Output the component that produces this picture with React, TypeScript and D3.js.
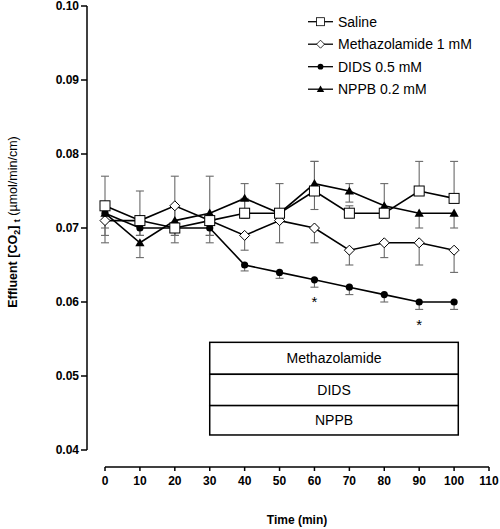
import * as d3 from 'd3';

// time points (min)
const times = [0, 10, 20, 30, 40, 50, 60, 70, 80, 90, 100];

const saline = [0.073, 0.071, 0.070, 0.071, 0.072, 0.072, 0.075, 0.072, 0.072, 0.075, 0.074];
const salineUp = [0.004, 0.004, 0.007, 0.006, 0.002, 0.004, 0.004, 0.001, 0.004, 0.004, 0.005];
const salineDown = [0, 0, 0, 0, 0.0007, 0, 0, 0, 0.0007, 0, 0];

const methaz = [0.071, 0.071, 0.073, 0.071, 0.069, 0.071, 0.070, 0.067, 0.068, 0.068, 0.067];
const methazUp = [0, 0, 0, 0, 0, 0, 0, 0, 0, 0, 0];
const methazDown = [0.003, 0.002, 0.005, 0.003, 0.002, 0.003, 0.002, 0.002, 0.002, 0.003, 0.003];

const dids = [0.072, 0.070, 0.070, 0.070, 0.065, 0.064, 0.063, 0.062, 0.061, 0.060, 0.060];
const didsUp = [0, 0, 0, 0, 0, 0, 0, 0, 0, 0, 0];
const didsDown = [0.002, 0.001, 0.001, 0.001, 0.0008, 0.0008, 0.001, 0.001, 0.001, 0.001, 0.001];

const nppb = [0.072, 0.068, 0.071, 0.072, 0.074, 0.072, 0.076, 0.075, 0.073, 0.072, 0.072];
const nppbUp = [0, 0, 0, 0, 0.002, 0, 0.003, 0.001, 0, 0, 0];
const nppbDown = [0.003, 0.002, 0.002, 0.003, 0.0026, 0, 0.0035, 0.0015, 0.0016, 0.002, 0.002];

const xTicks = [0, 10, 20, 30, 40, 50, 60, 70, 80, 90, 100, 110];
const yTicks = [0.04, 0.05, 0.06, 0.07, 0.08, 0.09, 0.10];

// significance marks on DIDS
const starTimes = [60, 90];
const starValues = [0.0605, 0.0574];

// treatment bars: labels, time span, row edges (value units)
const treatLabels = ['Methazolamide', 'DIDS', 'NPPB'];
const treatStart = 30;
const treatEnd = 101.2;
const treatEdges = [0.05455, 0.05023, 0.0460, 0.04203];

type Shape = 'square' | 'diamond' | 'circle' | 'triangle';

interface Series {
  name: string;
  values: number[];
  up: number[];
  down: number[];
  shape: Shape;
}

// drawn in this order; saline last so its squares sit on top
const series: Series[] = [
  { name: 'Methazolamide 1 mM', values: methaz, up: methazUp, down: methazDown, shape: 'diamond' },
  { name: 'DIDS 0.5 mM', values: dids, up: didsUp, down: didsDown, shape: 'circle' },
  { name: 'NPPB 0.2 mM', values: nppb, up: nppbUp, down: nppbDown, shape: 'triangle' },
  { name: 'Saline', values: saline, up: salineUp, down: salineDown, shape: 'square' },
];
const legendOrder = ['Saline', 'Methazolamide 1 mM', 'DIDS 0.5 mM', 'NPPB 0.2 mM'];

const FONT = 'Liberation Sans, Arial, Helvetica, sans-serif';

function Marker({ shape, cx, cy }: { shape: Shape; cx: number; cy: number }) {
  if (shape === 'square') {
    return <rect x={cx - 5} y={cy - 5} width={10} height={10} fill="#fff" stroke="#000" strokeWidth={1} />;
  }
  if (shape === 'diamond') {
    const r = 5;
    return (
      <path
        d={`M${cx},${cy - r}L${cx + r},${cy}L${cx},${cy + r}L${cx - r},${cy}Z`}
        fill="#fff"
        stroke="#000"
        strokeWidth={1}
      />
    );
  }
  if (shape === 'circle') {
    return <circle cx={cx} cy={cy} r={3.6} fill="#000" />;
  }
  const s = 4.6;
  return (
    <path
      d={`M${cx},${cy - s}L${cx + s},${cy + s * 0.75}L${cx - s},${cy + s * 0.75}Z`}
      fill="#000"
    />
  );
}

export default function App() {
  const width = 500;
  const height = 529;

  const x = d3.scaleLinear().domain([0, 110]).range([105, 489]);
  const y = d3.scaleLinear().domain([0.04, 0.10]).range([450, 6]);

  const line = d3
    .line<number>()
    .x((_, i) => x(times[i]))
    .y((d) => y(d));

  const axisY = 87;
  const axisX = 467;

  return (
    <svg
      width={width}
      height={height}
      style={{ position: 'absolute', left: 0, top: 0, background: '#fff' }}
      fontFamily={FONT}
    >
      {/* Y axis */}
      <line x1={axisY} x2={axisY} y1={y(0.10)} y2={y(0.04)} stroke="#000" strokeWidth={1.5} />
      {yTicks.map((t) => (
        <g key={t}>
          <line x1={axisY - 6} x2={axisY} y1={y(t)} y2={y(t)} stroke="#000" strokeWidth={1.5} />
          <text x={axisY - 8} y={y(t)} dy="0.35em" textAnchor="end" fontSize={12} fontWeight="bold">
            {d3.format('.2f')(t)}
          </text>
        </g>
      ))}
      <text
        transform={`translate(17,${222}) rotate(-90)`}
        textAnchor="middle"
        fontSize={12.5}
        fontWeight="bold"
      >
        Effluent [CO<tspan fontSize={9} dy={3}>2</tspan>
        <tspan dy={-3}>] </tspan>
        <tspan fontSize={9} dy={3}>t</tspan>
        <tspan dy={-3} fontWeight="normal"> (µmol/min/cm)</tspan>
      </text>

      {/* X axis */}
      <line x1={x(0)} x2={x(110)} y1={axisX} y2={axisX} stroke="#000" strokeWidth={1.5} />
      {xTicks.map((t) => (
        <g key={t}>
          <line x1={x(t)} x2={x(t)} y1={axisX} y2={axisX + 4} stroke="#000" strokeWidth={1.5} />
          <text x={x(t)} y={axisX + 18} textAnchor="middle" fontSize={12} fontWeight="bold">
            {t}
          </text>
        </g>
      ))}
      <text x={x(55)} y={524} textAnchor="middle" fontSize={12} fontWeight="bold">
        Time (min)
      </text>

      {/* Treatment table */}
      {treatLabels.map((lab, i) => (
        <g key={lab}>
          <rect
            x={x(treatStart)}
            y={y(treatEdges[i])}
            width={x(treatEnd) - x(treatStart)}
            height={y(treatEdges[i + 1]) - y(treatEdges[i])}
            fill="#fff"
            stroke="#000"
            strokeWidth={1.5}
          />
          <text
            x={(x(treatStart) + x(treatEnd)) / 2}
            y={(y(treatEdges[i]) + y(treatEdges[i + 1])) / 2}
            dy="0.35em"
            textAnchor="middle"
            fontSize={14}
          >
            {lab}
          </text>
        </g>
      ))}

      {/* Error bars */}
      {series.map((s) => (
        <g key={s.name + '-err'} stroke="#6a6a6a" strokeWidth={1.1}>
          {s.values.map((v, i) => {
            const cx = x(times[i]);
            const parts = [];
            if (s.up[i] > 0) {
              const yy = y(v + s.up[i]);
              parts.push(<line key="u" x1={cx} x2={cx} y1={y(v)} y2={yy} />);
              parts.push(<line key="uc" x1={cx - 4} x2={cx + 4} y1={yy} y2={yy} />);
            }
            if (s.down[i] > 0) {
              const yy = y(v - s.down[i]);
              parts.push(<line key="d" x1={cx} x2={cx} y1={y(v)} y2={yy} />);
              parts.push(<line key="dc" x1={cx - 4} x2={cx + 4} y1={yy} y2={yy} />);
            }
            return <g key={i}>{parts}</g>;
          })}
        </g>
      ))}

      {/* Lines + markers */}
      {series.map((s) => (
        <g key={s.name}>
          <path d={line(s.values) ?? ''} fill="none" stroke="#000" strokeWidth={1.6} />
          {s.values.map((v, i) => (
            <Marker key={i} shape={s.shape} cx={x(times[i])} cy={y(v)} />
          ))}
        </g>
      ))}

      {/* Stars */}
      {starTimes.map((t, i) => (
        <text key={t} x={x(t)} y={y(starValues[i]) + 9} textAnchor="middle" fontSize={15}>
          *
        </text>
      ))}

      {/* Legend */}
      {legendOrder.map((name, i) => {
        const s = series.find((d) => d.name === name)!;
        const ly = 21.7 + i * 22.5;
        return (
          <g key={name}>
            <line x1={308} x2={333} y1={ly} y2={ly} stroke="#000" strokeWidth={1.3} />
            <g transform={`translate(320.5,${ly}) scale(0.8) translate(-320.5,${-ly})`}>
              <Marker shape={s.shape} cx={320.5} cy={ly} />
            </g>
            <text x={338} y={ly} dy="0.35em" fontSize={14}>
              {name}
            </text>
          </g>
        );
      })}
    </svg>
  );
}
